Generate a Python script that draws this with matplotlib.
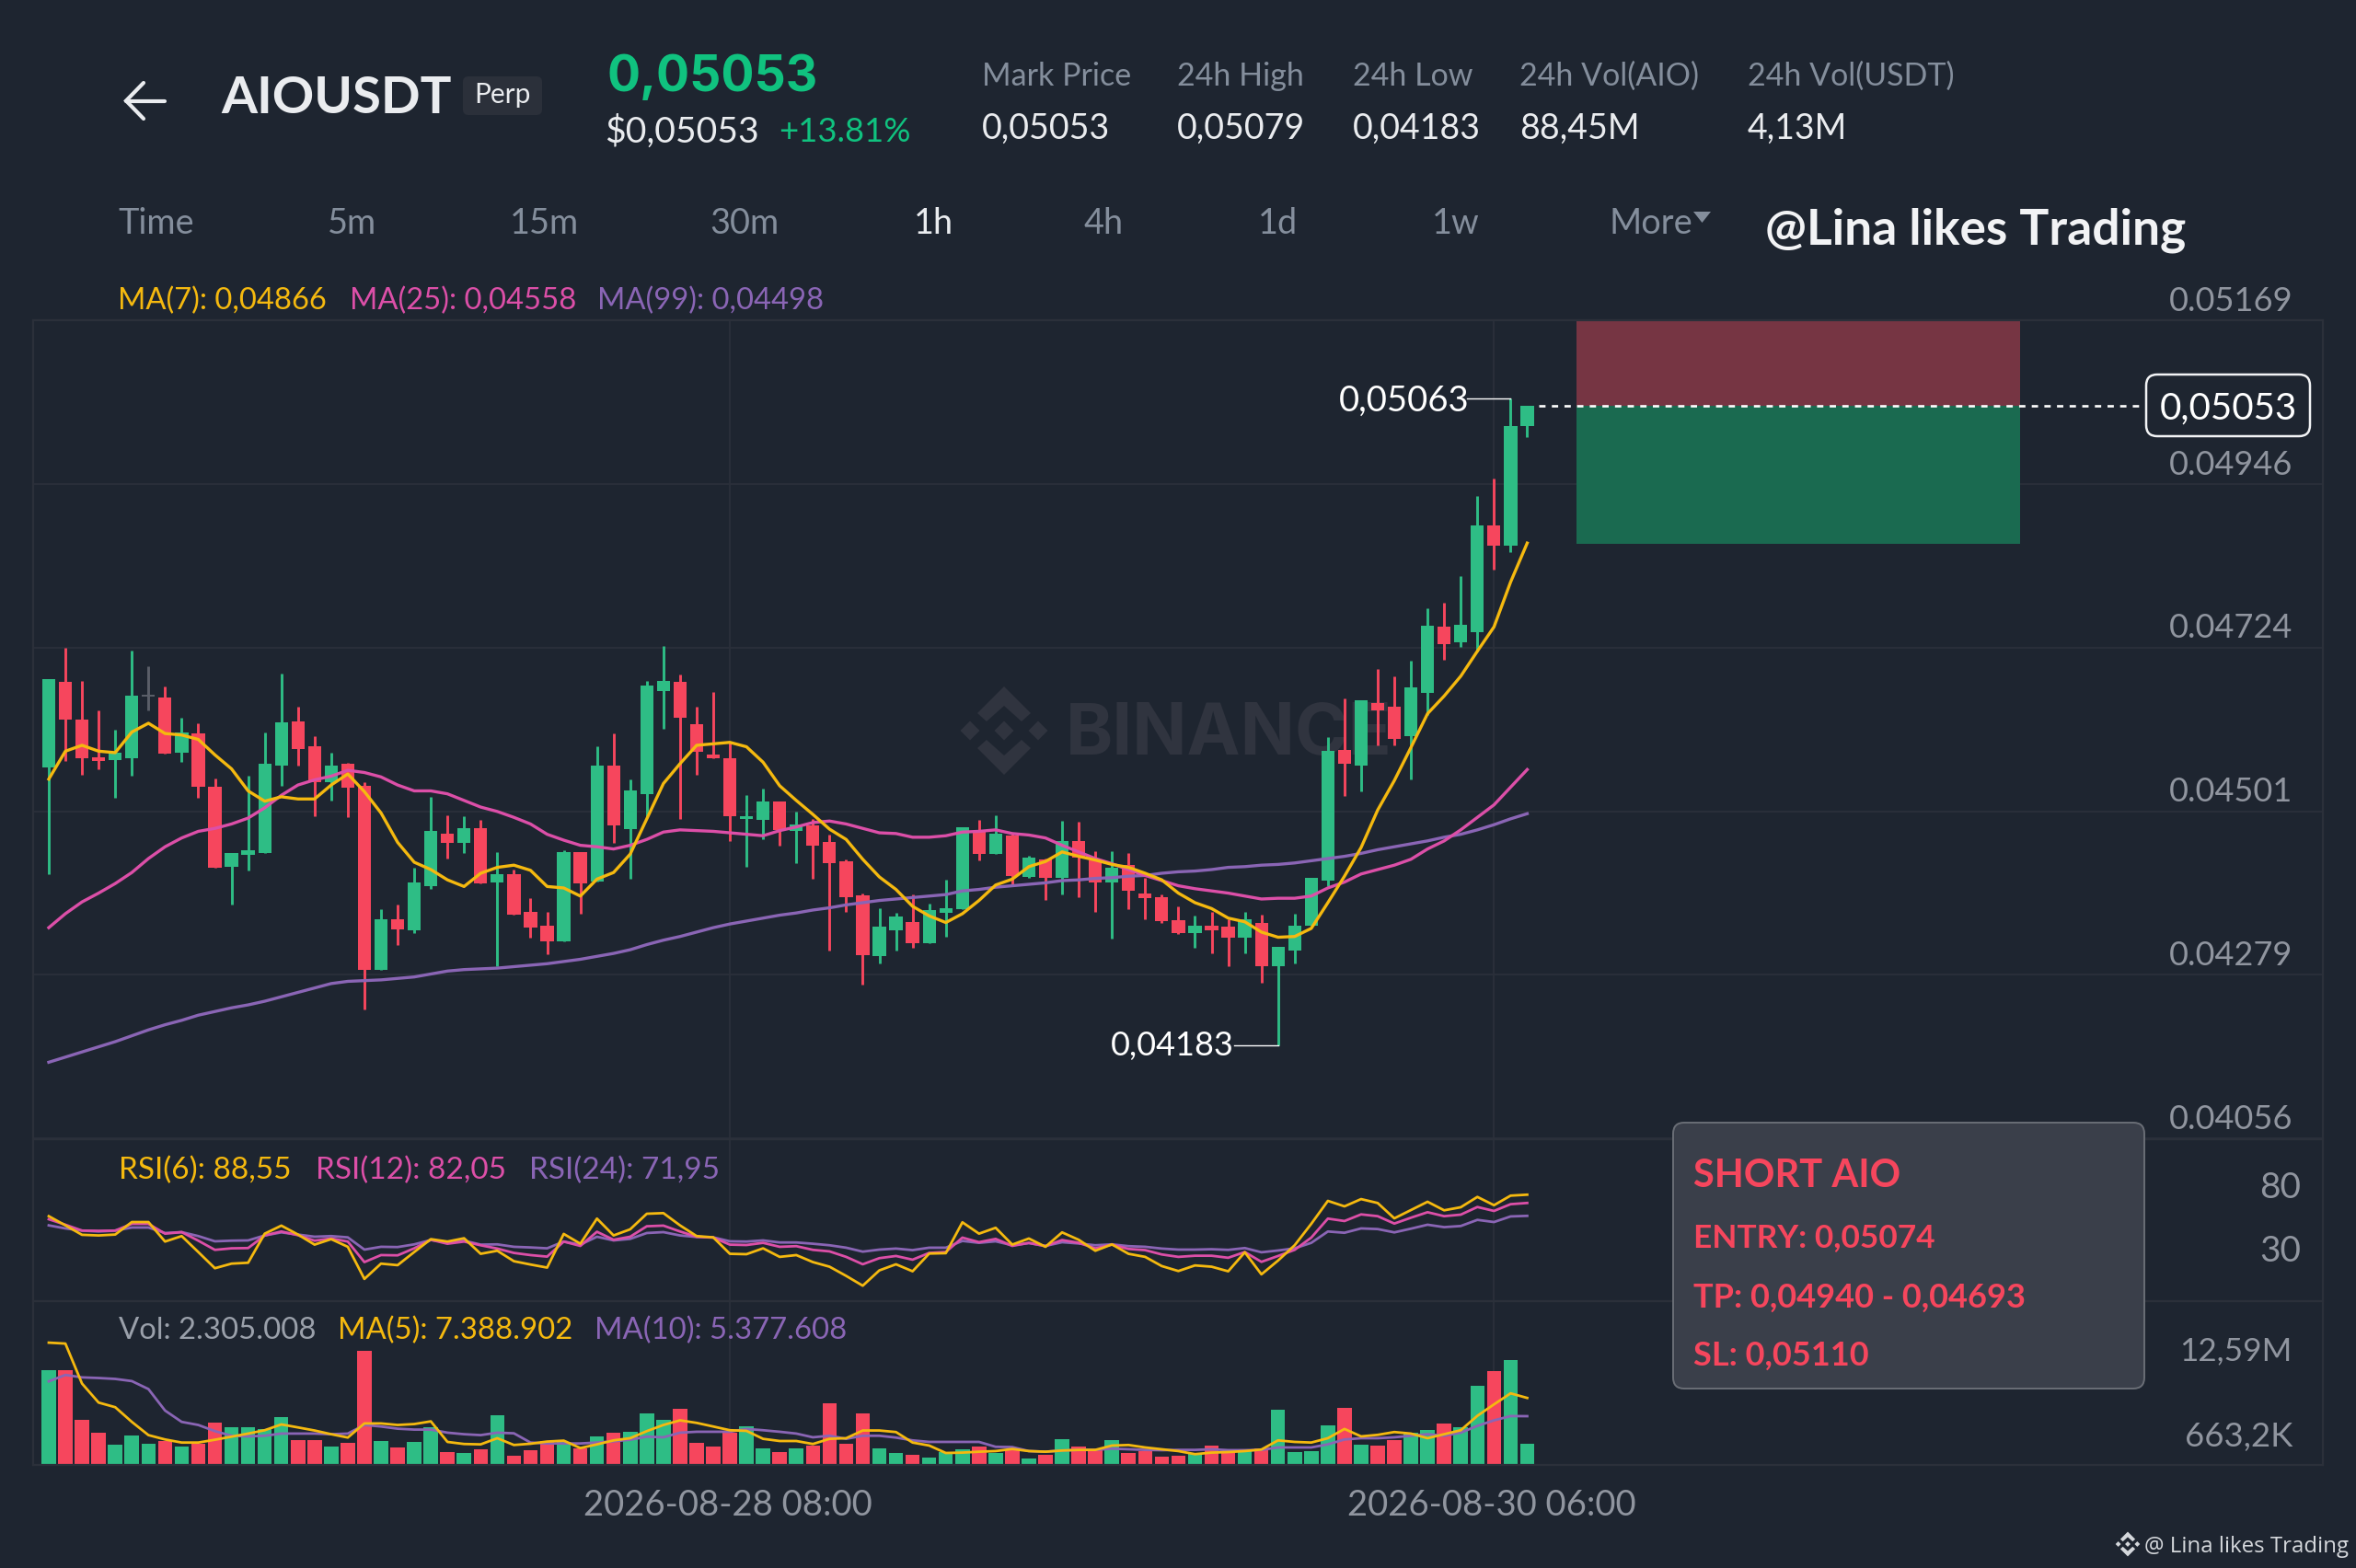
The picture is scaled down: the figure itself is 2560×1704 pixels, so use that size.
import numpy as np
import matplotlib
matplotlib.use("Agg")
import matplotlib.pyplot as plt
from matplotlib.patches import Polygon, FancyBboxPatch
from matplotlib.transforms import ScaledTranslation

W, H = 2560, 1704
BG = '#1e2530'; GRID = '#2b303a'; GREEN = '#2ebd85'; RED = '#f6465d'; DOJI = '#5a5e68'
YEL = '#f5b90f'; MAG = '#dc4fa8'; PUR = '#8a65b5'; AXT = '#90959f'; LIGHT = '#eaecef'; DIM = '#848e9c'

# prices in units of 1e-5
opens = [4561,4677,4626,4575,4571,4574,4657,4656,4581,4607,4534,4426,4442,4444,4563,4624,4590,4541,4566,4536,
         4286,4355,4339,4400,4471,4458,4478,4404,4416,4365,4346,4324,4446,4406,4564,4477,4524,4665,4677,4620,
         4579,4573,4491,4490,4514,4474,4482,4459,4433,4387,4304,4339,4351,4322,4363,4368,4474,4443,4468,4412,
         4436,4411,4461,4434,4405,4428,4390,4384,4353,4336,4346,4344,4330,4349,4290,4312,4346,4407,4585,4563,
         4649,4643,4603,4662,4752,4731,4745,4890,4863,5025]
highs = [4681,4723,4679,4639,4612,4720,4698,4671,4628,4621,4546,4445,4550,4608,4689,4644,4603,4581,4567,4541,
         4368,4375,4424,4521,4496,4494,4490,4446,4422,4383,4365,4448,4446,4590,4607,4544,4679,4726,4687,4644,
         4664,4595,4523,4532,4514,4501,4491,4469,4436,4390,4370,4363,4388,4376,4408,4479,4489,4496,4471,4441,
         4437,4488,4487,4447,4447,4444,4411,4388,4372,4360,4365,4355,4364,4361,4317,4362,4411,4602,4655,4652,
         4695,4685,4706,4777,4785,4821,4930,4954,5063,5053]
lows = [4416,4570,4551,4558,4520,4550,4639,4580,4569,4520,4425,4375,4421,4444,4536,4564,4495,4516,4493,4232,
        4286,4320,4336,4396,4437,4445,4403,4290,4361,4330,4307,4324,4362,4406,4458,4409,4493,4614,4491,4551,
        4573,4461,4426,4463,4454,4431,4409,4312,4365,4266,4294,4312,4316,4322,4331,4368,4435,4443,4401,4411,
        4381,4388,4384,4365,4328,4368,4354,4350,4334,4316,4308,4290,4308,4268,4183,4294,4346,4400,4522,4528,
        4591,4591,4544,4632,4707,4725,4719,4830,4854,5010]
closes = [4681,4626,4574,4570,4581,4658,4657,4580,4609,4534,4425,4445,4448,4566,4622,4586,4541,4563,4533,4285,
          4355,4341,4404,4475,4458,4478,4403,4416,4361,4343,4325,4446,4403,4564,4482,4529,4672,4679,4628,4582,
          4573,4494,4495,4514,4476,4483,4454,4431,4385,4306,4345,4358,4322,4367,4369,4479,4443,4471,4413,4438,
          4411,4461,4438,4405,4425,4393,4383,4352,4336,4346,4340,4329,4354,4290,4317,4346,4411,4583,4566,4652,
          4639,4600,4670,4754,4728,4755,4890,4863,5025,5053]
ma7 = [4545,4583,4591,4583,4581,4609,4621,4607,4605,4599,4578,4559,4529,4515,4521,4518,4518,4537,4552,4528,
       4499,4459,4432,4422,4408,4399,4417,4425,4428,4421,4399,4397,4386,4409,4418,4443,4491,4539,4566,4591,
       4593,4595,4589,4568,4536,4516,4497,4477,4463,4436,4412,4395,4372,4359,4350,4362,4380,4401,4409,4426,
       4433,4446,4440,4435,4429,4425,4417,4408,4390,4377,4369,4356,4351,4337,4330,4331,4342,4377,4413,4452,
       4503,4543,4588,4634,4658,4685,4719,4752,4813,4866]
ma25 = [4343,4362,4378,4390,4403,4418,4437,4453,4465,4474,4478,4484,4492,4506,4523,4537,4544,4549,4557,4554,
        4548,4537,4529,4529,4525,4516,4507,4501,4493,4484,4470,4462,4455,4453,4450,4455,4463,4473,4476,4475,
        4474,4472,4470,4468,4475,4480,4486,4488,4484,4478,4472,4471,4466,4466,4468,4473,4474,4476,4471,4469,
        4465,4455,4446,4437,4430,4422,4414,4407,4400,4396,4393,4390,4386,4382,4383,4383,4386,4397,4405,4416,
        4422,4428,4436,4450,4461,4476,4493,4510,4534,4558]
ma99 = [4160,4167,4174,4181,4188,4196,4204,4211,4217,4224,4229,4234,4238,4243,4249,4255,4261,4267,4270,4271,
        4272,4274,4276,4280,4284,4286,4287,4288,4290,4292,4294,4297,4300,4304,4308,4313,4320,4326,4331,4337,
        4343,4348,4352,4356,4360,4363,4367,4370,4374,4377,4380,4382,4384,4386,4388,4393,4395,4398,4400,4402,
        4404,4407,4408,4410,4411,4413,4414,4417,4419,4420,4422,4425,4426,4428,4429,4431,4434,4437,4440,4444,
        4449,4453,4457,4461,4466,4470,4476,4483,4491,4498]
rsi6 = [71.7,64.5,57.1,56.6,57.3,67.1,67.1,51.8,56.1,43.6,30.9,34.5,35.2,58.0,64.3,57.3,49.4,53.7,47.7,22.5,
        34.5,33.3,43.6,53.7,51.8,54.4,42.2,44.6,36.4,33.8,31.4,57.8,50.1,69.8,56.6,61.4,73.6,74.1,64.5,56.1,
        55.1,42.2,41.9,46.5,39.8,41.2,35.7,32.1,24.9,17.2,29.2,34.0,28.5,42.4,42.7,66.9,58.0,62.6,49.4,54.2,
        47.7,59.0,53.2,44.6,49.6,42.2,39.8,32.6,28.7,33.1,32.1,28.5,43.4,26.1,36.9,48.9,65.7,83.7,79.4,85.1,
        82.0,70.0,76.5,83.0,76.3,78.7,86.8,80.3,87.8,88.55]
rsi12 = [69.3,65.0,60.4,60.2,60.4,65.7,65.7,58.0,59.2,52.5,45.3,46.5,46.7,56.6,59.7,56.8,52.5,54.2,51.8,35.7,
         41.2,41.0,46.5,53.2,50.1,51.8,48.9,46.3,42.9,41.2,40.0,51.8,48.4,59.5,53.2,55.6,63.8,64.3,59.7,55.6,
         54.9,49.4,49.1,50.8,47.7,48.2,45.3,44.1,39.8,34.0,38.8,40.5,37.6,42.9,43.6,54.9,51.3,53.9,48.4,50.8,
         48.2,53.0,50.8,46.5,49.4,46.0,45.1,41.7,39.8,40.7,40.7,39.1,43.6,35.9,40.5,45.3,54.9,69.8,67.9,73.1,
         71.7,65.9,70.5,74.8,71.7,72.9,78.9,75.8,81.1,82.05]
rsi24 = [64.5,62.1,60.4,59.7,60.4,62.8,62.8,58.5,59.2,56.1,52.0,52.5,52.7,56.6,59.0,57.3,55.6,56.1,55.1,45.5,
         47.7,47.5,49.6,53.0,51.3,52.5,49.4,49.6,47.7,47.2,46.5,51.8,49.4,55.6,52.7,53.9,58.5,59.2,56.6,55.4,
         55.1,52.0,51.8,52.7,51.1,51.1,50.1,48.9,47.0,43.9,45.5,46.3,45.1,47.0,47.0,52.3,50.8,52.0,48.9,50.6,
         48.4,51.3,50.3,48.9,49.6,48.2,47.7,46.3,45.5,45.5,45.8,45.3,46.7,43.4,44.8,46.5,50.8,59.7,58.7,62.1,
         61.6,59.0,61.9,65.0,63.1,64.0,68.8,67.1,71.5,71.95]
# volume in millions
volume = [10.48,10.48,5.02,3.56,2.27,3.22,2.37,2.61,2.03,2.34,4.71,4.14,4.14,3.97,5.25,2.71,2.71,2.07,2.41,12.59,
          2.61,1.97,2.51,4.14,1.46,1.36,1.70,5.53,0.98,1.63,2.68,2.54,1.80,3.12,3.59,3.70,5.70,5.02,6.24,2.44,
          2.00,3.56,4.31,1.86,1.42,1.86,2.14,6.78,2.31,5.66,1.80,1.36,1.15,0.85,1.46,1.73,2.07,1.36,1.70,0.68,
          1.12,2.81,2.07,1.66,2.78,1.32,1.49,0.92,1.02,1.19,2.10,1.46,1.53,1.86,6.10,1.39,1.49,4.37,6.31,2.24,
          2.17,2.75,3.56,3.83,4.58,4.17,8.78,10.37,11.53,2.305]
vol_ma5 = [13.49,13.39,8.98,6.88,6.37,4.75,3.29,2.81,2.47,2.47,2.78,3.12,3.46,3.83,4.47,4.14,3.80,3.39,3.02,4.58,
           4.58,4.41,4.51,4.81,2.54,2.31,2.27,2.95,2.20,2.34,2.58,2.68,1.86,2.27,2.71,2.95,3.73,4.41,4.92,4.64,
           4.24,3.83,3.76,2.88,2.64,2.64,2.31,2.88,2.95,3.80,3.80,3.63,2.47,2.14,1.32,1.36,1.46,1.53,1.76,1.53,
           1.46,1.59,1.66,1.66,2.14,2.20,1.93,1.73,1.53,1.19,1.36,1.42,1.53,1.70,2.71,2.54,2.47,2.95,3.97,3.15,
           3.32,3.63,3.46,2.95,3.39,3.83,5.42,6.68,7.90,7.39]
vol_ma10 = [9.22,9.93,9.66,9.59,9.49,9.25,8.37,6.00,4.75,4.41,3.73,3.22,3.15,3.22,3.46,3.46,3.46,3.39,3.46,4.41,
            4.24,4.00,3.90,3.90,3.56,3.39,3.29,3.56,3.49,2.47,2.37,2.37,2.37,2.47,2.61,2.78,3.12,3.05,3.56,3.66,
            3.66,3.66,3.97,3.83,3.66,3.46,3.05,3.22,2.88,3.22,3.22,3.02,2.71,2.54,2.54,2.54,2.54,2.00,1.97,1.53,
            1.46,1.59,1.66,1.66,1.80,1.73,1.66,1.63,1.66,1.66,1.73,1.63,1.63,1.66,1.93,1.93,1.93,2.27,2.81,2.95,
            2.95,3.05,3.22,3.39,3.22,3.56,4.31,4.92,5.39,5.38]
price_grid = [0.05169,0.04946,0.04724,0.04501,0.04279,0.04056]
time_ticks = [41,87]
time_labels = ['2026-08-28 08:00','2026-08-30 06:00']
zone_x = [91.95,118.67]
zone_sl = [0.05053,0.05169]
zone_tp = [0.04865,0.05053]
last_price = 0.05053

o,h,l,c = [np.array(a)/1e5 for a in (opens,highs,lows,closes)]
idx = np.arange(len(o))
plt.rcParams['font.family'] = ['Lato','DejaVu Sans']
fig = plt.figure(figsize=(W/100,H/100),dpi=100,facecolor=BG)
def axpx(l_,t,r,b,z):
    a = fig.add_axes([l_/W,1-b/H,(r-l_)/W,(b-t)/H],zorder=z)
    return a
bgax = axpx(0,0,W,H,0); fgax = axpx(0,0,W,H,5)
for a in (bgax,fgax):
    a.set_xlim(0,W); a.set_ylim(H,0); a.axis('off'); a.patch.set_alpha(0)
L,R = 36,2524
xl = ((L-53)/18.05,(R-53)/18.05)
pax = axpx(L,348,R,1237.5,1); rax = axpx(L,1237.5,R,1414,1); vax = axpx(L,1414,R,1592,1)
for a in (pax,rax,vax):
    a.set_xlim(*xl); a.patch.set_alpha(0)
    for s in a.spines.values():
        s.set_color(GRID); s.set_linewidth(1.6)
    a.set_xticks(time_ticks); a.grid(axis='x',color=GRID,lw=1.3)
    a.tick_params(length=0,labelbottom=False,labelleft=False)
    a.set_axisbelow(True)

# watermark
def logo(ax,cx,cy,s,col):
    pts = lambda P:[(cx+s*x,cy+s*y) for x,y in P]
    for dx in (-37,0,37):
        ax.add_patch(Polygon(pts([(dx-10.5,0),(dx,-10.5),(dx+10.5,0),(dx,10.5)]),fc=col,lw=0))
    up = [(0,-48),(29,-19),(19,-10),(0,-27),(-19,-10),(-29,-19)]
    ax.add_patch(Polygon(pts(up),fc=col,lw=0))
    ax.add_patch(Polygon(pts([(x,-y) for x,y in up]),fc=col,lw=0))
logo(bgax,1091,794,1,'#30343f')
bgax.text(1158,820,'BINANCE',fontsize=56,fontweight='bold',color='#30343f',ha='left',va='baseline',family='Inter')

# price panel
pax.set_ylim(price_grid[-1],price_grid[0])
pax.set_yticks(price_grid); pax.grid(axis='y',color=GRID,lw=1.3)
pax.fill_between(zone_x,zone_sl[0],zone_sl[1],color='#763543',lw=0,zorder=1)
pax.fill_between(zone_x,zone_tp[0],zone_tp[1],color='#1a6a50',lw=0,zorder=1)
up = c>=o
cols = [DOJI if o[i]==c[i] else (GREEN if up[i] else RED) for i in idx]
pax.vlines(idx,l,h,colors=cols,lw=2.1,zorder=2)
bot = np.minimum(o,c); ht = np.maximum(np.abs(c-o),3e-5)
pax.bar(idx,ht,bottom=bot,width=0.79,color=cols,lw=0,zorder=3)
for s,col in ((ma99,PUR),(ma25,MAG),(ma7,YEL)):
    pax.plot(idx,np.array(s)/1e5,color=col,lw=2.4,zorder=4,solid_joinstyle='round')
pax.plot([89.7,127],[last_price]*2,color='white',lw=1.9,ls=(0,(2.6,2.6)),zorder=5)
imax = int(np.argmax(h)); imin = int(np.argmin(l))
pax.plot([imax-2.65,imax],[h[imax]]*2,color='white',lw=1,zorder=5)
pax.plot([imin-2.65,imin],[l[imin]]*2,color='white',lw=1,zorder=5)
def lab(ax,val,s,dx=-33,dy=21,fs=26):
    ax.annotate(s,xy=(1,val),xycoords=('axes fraction','data'),xytext=(dx,dy),textcoords='offset pixels',
                ha='right',va='center',color=AXT,fontsize=fs,annotation_clip=False)
for v in price_grid:
    lab(pax,v,f'{v:.5f}')

# rsi panel
rax.set_ylim(5.1,132.4); rax.set_yticks([])
for s,col in ((rsi24,PUR),(rsi12,MAG),(rsi6,YEL)):
    rax.plot(idx,s,color=col,lw=2.0,zorder=3)
lab(rax,80,'80',-24,19,28); lab(rax,30,'30',-24,19,28)

# volume panel
vax.set_ylim(0,18.07); vax.set_yticks([])
vax.bar(idx,volume,width=0.86,color=[GREEN if u else RED for u in up],lw=0,zorder=2)
vax.plot(idx,vol_ma10,color=PUR,lw=2.0,zorder=3)
vax.plot(idx,vol_ma5,color=YEL,lw=2.0,zorder=4)
lab(vax,12.59,'12,59M',-33,0,25.3); lab(vax,0.6632,'663,2K',-33,24,26.4)
vax.tick_params(labelbottom=True,pad=19)
vax.set_xticklabels(time_labels,color=AXT,fontsize=27.5)
for t_ in vax.get_xticklabels():
    t_.set_transform(t_.get_transform()+ScaledTranslation(-2.5/100,0,fig.dpi_scale_trans))

# overlay text
def T(x,yc,s,fs,col,ha='left',w='normal',ax=fgax,fam=None):
    kw = {'family':fam} if fam else {}
    ax.text(x,yc+0.5*fs,s,fontsize=fs,color=col,ha=ha,va='baseline',fontweight=w,**kw)
fgax.plot([179,137],[109.5,109.5],color=LIGHT,lw=3,solid_capstyle='round')
fgax.plot([156,137,156],[90,109.5,129],color=LIGHT,lw=3,solid_capstyle='round',solid_joinstyle='miter')
T(240,103,'AIOUSDT',40.5,LIGHT,w='bold')
fgax.add_patch(FancyBboxPatch((509,89),74,30,boxstyle='round,pad=6,rounding_size=6',fc='#2b303a',lw=0))
T(546,101,'Perp',21.5,LIGHT,ha='center')
T(659,80,'0,05053',38.5,'#10c27f',w='bold',fam='Inter')
T(657,141,'$0,05053',28.3,LIGHT)
T(846,141,'+13.81%',26.2,'#10c27f')
for x,a_,b_ in ((1067,'Mark Price','0,05053'),(1279,'24h High','0,05079'),(1470,'24h Low','0,04183'),
                (1651,'24h Vol(AIO)','88,45M'),(1899,'24h Vol(USDT)','4,13M')):
    T(x,81,a_,24.5,DIM); T(x,137,b_,27,LIGHT)
for x,s in ((128,'Time'),(356,'5m'),(554,'15m'),(771,'30m'),(1178,'4h'),(1367,'1d'),(1556,'1w'),(1749,'More')):
    T(x,240,s,27.3,DIM)
T(993,240,'1h',27.3,LIGHT)
fgax.add_patch(Polygon([(1840,230),(1859,230),(1849.5,242)],fc=DIM,lw=0))
T(1918,246,'@Lina likes Trading',38.4,'#f2f3f5',w='bold')
for x,s,col in ((128,'MA(7): 0,04866',YEL),(380,'MA(25): 0,04558',MAG),(649,'MA(99): 0,04498',PUR)):
    T(x,324,s,23.6,col)
for x,s,col in ((129,'RSI(6): 88,55',YEL),(343,'RSI(12): 82,05',MAG),(575,'RSI(24): 71,95',PUR)):
    T(x,1269,s,24,col)
for x,s,col in ((129,'Vol: 2.305.008','#9aa0aa'),(367,'MA(5): 7.388.902',YEL),(646,'MA(10): 5.377.608',PUR)):
    T(x,1443,s,23.7,col)
T(1455,433,'0,05063',27.6,'white'); T(1207,1134,'0,04183',26,'white')
# current price tag
fgax.add_patch(FancyBboxPatch((2344,419),154,43,boxstyle='round,pad=12,rounding_size=12',fc=BG,ec='#f2f3f5',lw=1.8))
T(2421,441,'0,05053',29,'white',ha='center')
# signal box
fgax.add_patch(FancyBboxPatch((1830,1232),488,265,boxstyle='round,pad=12,rounding_size=12',fc='#3a3f4a',ec='#6a6e76',lw=1.4))
T(1840,1275,'SHORT AIO',30,RED,w='bold')
T(1840,1342,'ENTRY: 0,05074',25.4,RED,w='bold')
T(1840,1408,'TP: 0,04940 - 0,04693',26,RED,w='bold')
T(1840,1471,'SL: 0,05110',26,RED,w='bold')
logo(fgax,2312,1678,0.28,'#d5d8dc')
T(2552,1678,'@ Lina likes Trading',17.3,'#d5d8dc',ha='right',fam='Open Sans')
fig.savefig('out.png',dpi=100,facecolor=BG)
